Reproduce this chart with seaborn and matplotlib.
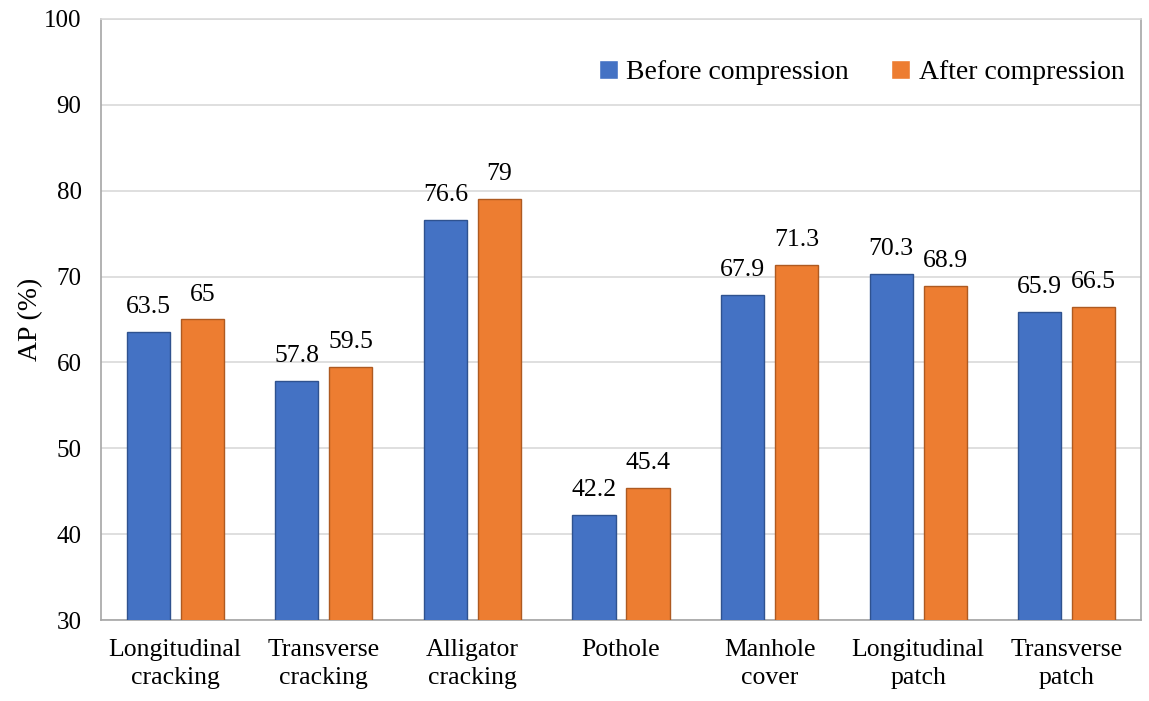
import pandas as pd
import matplotlib.pyplot as plt
import seaborn as sns

# Datos
categorias = ["Longitudinal\ncracking", "Transverse\ncracking", "Alligator\ncracking",
              "Pothole", "Manhole\ncover", "Longitudinal\npatch", "Transverse\npatch"]
antes = [63.5, 57.8, 76.6, 42.2, 67.9, 70.3, 65.9]
despues = [65, 59.5, 79, 45.4, 71.3, 68.9, 66.5]
etiquetas_antes = ["63.5", "57.8", "76.6", "42.2", "67.9", "70.3", "65.9"]
etiquetas_despues = ["65", "59.5", "79", "45.4", "71.3", "68.9", "66.5"]
series = ["Before compression", "After compression"]

df = pd.DataFrame({
    "Clase": categorias * 2,
    "AP": antes + despues,
    "Serie": [series[0]] * len(categorias) + [series[1]] * len(categorias),
})

sns.set_theme(style="white")
plt.rcParams['font.family'] = ['Liberation Serif', 'DejaVu Serif']
plt.rcParams['text.color'] = 'black'
plt.rcParams['axes.labelcolor'] = 'black'
plt.rcParams['xtick.color'] = 'black'
plt.rcParams['ytick.color'] = 'black'

fig = plt.figure(figsize=(11.49, 7.01), dpi=100)
ax = fig.add_axes([0.0879, 0.1155, 0.9051, 0.8575])

sns.barplot(data=df, x="Clase", y="AP", hue="Serie", hue_order=series,
            palette=["#4472C4", "#ED7D31"], width=0.727, gap=0.2,
            saturation=1, ax=ax, zorder=3)

# bordes de barras
for cont, borde in zip(ax.containers, ["#2F528F", "#AE5A21"]):
    for p in cont:
        p.set_edgecolor(borde)
        p.set_linewidth(1.0)

ax.bar_label(ax.containers[0], labels=etiquetas_antes, padding=10, fontsize=18.5)
ax.bar_label(ax.containers[1], labels=etiquetas_despues, padding=10, fontsize=18.5)

ax.set_ylim(30, 100)
ax.set_yticks(range(30, 101, 10))
ax.set_xlim(-0.5, len(categorias) - 0.5)
ax.yaxis.grid(True, color="#D9D9D9", linewidth=1.2, zorder=0)
ax.set_axisbelow(True)
ax.tick_params(axis="y", labelsize=18, length=0, pad=14)
ax.tick_params(axis="x", labelsize=18.5, length=0, pad=14)
for t in ax.get_xticklabels():
    t.set_linespacing(1.3)
ax.set_xlabel("")
ax.set_ylabel("AP (%)", fontsize=20)
ax.yaxis.set_label_coords(-0.056, 0.5)
for s in ax.spines.values():
    s.set_color("#A6A6A6")
    s.set_linewidth(1.2)
ax.spines["top"].set_color("#D9D9D9")

leg = ax.legend(loc="upper right", bbox_to_anchor=(1.0, 0.96), ncol=2, frameon=False,
                fontsize=20, handlelength=0.7, handleheight=0.7, handletextpad=0.3,
                columnspacing=1.5, borderaxespad=0.2)

plt.savefig("out.png", dpi=100)
